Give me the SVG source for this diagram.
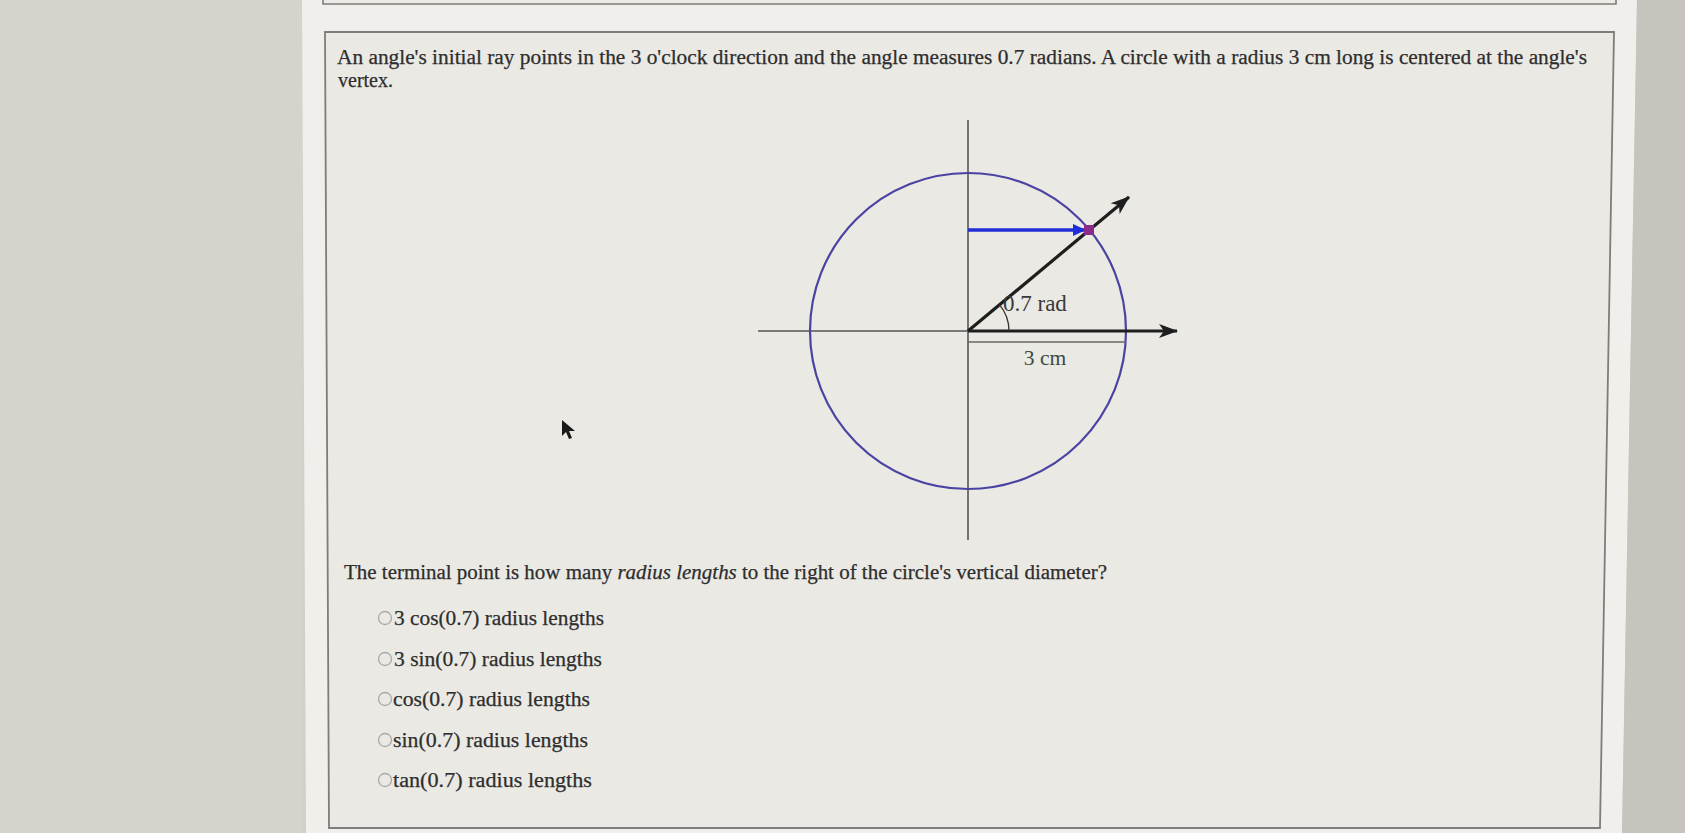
<svg xmlns="http://www.w3.org/2000/svg" width="1685" height="833" viewBox="0 0 1685 833">
  <style>
    .txt { font-family: "Liberation Serif", "Times New Roman", serif; fill: #2e2e2e; stroke: #2e2e2e; stroke-width: 0.25; }
    .q { font-size: 20px; }
    .opt { font-size: 20.5px; }
    .radio { fill: none; stroke: #a9a9a9; stroke-width: 1.3; }
    .axis { stroke: #555555; stroke-width: 1.6; fill: none; }
    .ray { stroke: #1e1e1e; stroke-width: 3.2; fill: none; }
  </style>
  <defs>
    <marker id="blackHead" markerUnits="userSpaceOnUse" markerWidth="24" markerHeight="16" viewBox="-20 -8 22 16" refX="0" refY="0" orient="auto">
      <path d="M1,0 L-18,-7 L-13,0 L-18,7 Z" fill="#1e1e1e"/>
    </marker>
    <marker id="blueHead" markerUnits="userSpaceOnUse" markerWidth="16" markerHeight="14" viewBox="-14 -7 15 14" refX="0" refY="0" orient="auto">
      <path d="M0,0 L-13,-6 L-13,6 Z" fill="#1f2ed8"/>
    </marker>
  </defs>

  <!-- background: desk/wall and screen -->
  <rect x="0" y="0" width="1685" height="833" fill="#d2cfc8"/>
  <rect x="0" y="0" width="302" height="833" fill="#d6d3cc"/>
  <polygon points="302,0 1637,0 1622,833 306,833" fill="#f0efeb"/>
  <polygon points="1637,0 1685,0 1685,833 1622,833" fill="#c7c4bd"/>
  <!-- top box remnant -->
  <path d="M323,0 L323,4 L1616,4 L1616,0" fill="#ecebe6" stroke="#7d7d7d" stroke-width="1.6"/>
  <!-- main box -->
  <path id="panel" d="M325,32 L1614,32 L1600,828 L329,828 Z" fill="#eae9e4" stroke="#7d7d7d" stroke-width="1.8"/>

  <!-- problem text -->
  <g id="intro">
    <text class="txt q" x="337" y="64" textLength="1250" lengthAdjust="spacingAndGlyphs">An angle's initial ray points in the 3 o'clock direction and the angle measures 0.7 radians. A circle with a radius 3 cm long is centered at the angle's</text>
    <text class="txt q" x="338" y="87">vertex.</text>
  </g>

  <!-- diagram -->
  <g id="axes">
    <line class="axis" x1="968" y1="120" x2="968" y2="540"/>
    <line class="axis" x1="758" y1="331" x2="1160" y2="331"/>
  </g>
  <g id="circle">
    <circle cx="968" cy="331" r="158" fill="none" stroke="#4a43a2" stroke-width="2.2"/>
  </g>
  <g id="connectors">
    <line id="initial-ray" class="ray" x1="968" y1="331" x2="1177" y2="331" marker-end="url(#blackHead)"/>
    <line id="terminal-ray" class="ray" x1="968" y1="331" x2="1129" y2="197" marker-end="url(#blackHead)"/>
    <line id="blue-arrow" x1="968" y1="230" x2="1086" y2="230" stroke="#1f2ed8" stroke-width="3.4" marker-end="url(#blueHead)"/>
    <path id="angle-arc" d="M1009,331 A41,41 0 0 0 999.4,304.6" fill="none" stroke="#333" stroke-width="1.3"/>
    <line id="dim-line" x1="968" y1="342" x2="1126" y2="342" stroke="#666" stroke-width="1.3"/>
  </g>
  <g id="terminal-point">
    <rect x="1084" y="225" width="10" height="10" fill="#8a2b8c"/>
  </g>
  <g id="angle-label">
    <text class="txt" x="1003" y="311" font-size="23" style="fill:#3a3a3a;stroke:none">0.7 rad</text>
  </g>
  <g id="radius-label">
    <text class="txt" x="1045" y="365" font-size="21.5" text-anchor="middle" style="fill:#3b4a3d;stroke:none">3 cm</text>
  </g>

  <!-- cursor -->
  <polygon points="562,420 562,436 566,432 569,439 572,438 569,431 575,431" fill="#1a1a1a"/>

  <!-- question -->
  <g id="question">
    <text class="txt q" x="344" y="579" textLength="763" lengthAdjust="spacingAndGlyphs">The terminal point is how many <tspan font-style="italic">radius lengths</tspan> to the right of the circle's vertical diameter?</text>
  </g>
  <g id="option1">
    <circle class="radio" cx="385" cy="618" r="6.5"/>
    <text class="txt opt" x="394" y="625" textLength="210" lengthAdjust="spacingAndGlyphs">3 cos(0.7) radius lengths</text>
  </g>
  <g id="option2">
    <circle class="radio" cx="385" cy="659" r="6.5"/>
    <text class="txt opt" x="394" y="666" textLength="208" lengthAdjust="spacingAndGlyphs">3 sin(0.7) radius lengths</text>
  </g>
  <g id="option3">
    <circle class="radio" cx="385" cy="699" r="6.5"/>
    <text class="txt opt" x="393" y="706" textLength="197" lengthAdjust="spacingAndGlyphs">cos(0.7) radius lengths</text>
  </g>
  <g id="option4">
    <circle class="radio" cx="385" cy="740" r="6.5"/>
    <text class="txt opt" x="393" y="747" textLength="195" lengthAdjust="spacingAndGlyphs">sin(0.7) radius lengths</text>
  </g>
  <g id="option5">
    <circle class="radio" cx="385" cy="780" r="6.5"/>
    <text class="txt opt" x="393" y="787" textLength="199" lengthAdjust="spacingAndGlyphs">tan(0.7) radius lengths</text>
  </g>
</svg>
